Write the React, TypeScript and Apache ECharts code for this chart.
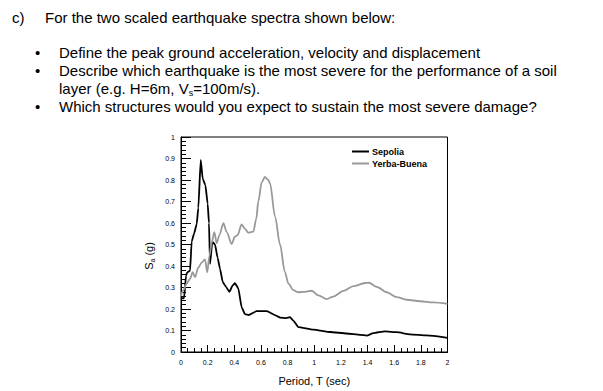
import React, { useEffect, useRef } from "react";
import * as echarts from "echarts";

const sepoliaT = [0, 0.023, 0.038, 0.047, 0.068, 0.08, 0.098, 0.118, 0.13, 0.148, 0.163, 0.183, 0.2, 0.21, 0.218, 0.235, 0.255, 0.275, 0.293, 0.313, 0.338, 0.363, 0.388, 0.405, 0.43, 0.456, 0.48, 0.51, 0.568, 0.643, 0.718, 0.743, 0.79, 0.818, 0.843, 0.88, 0.993, 1.12, 1.244, 1.344, 1.394, 1.444, 1.53, 1.62, 1.72, 1.845, 2.0];
const sepoliaSa = [0.25, 0.25, 0.356, 0.37, 0.378, 0.514, 0.55, 0.596, 0.67, 0.893, 0.806, 0.776, 0.69, 0.6, 0.41, 0.513, 0.5, 0.438, 0.386, 0.326, 0.303, 0.28, 0.31, 0.32, 0.296, 0.206, 0.176, 0.172, 0.19, 0.19, 0.168, 0.16, 0.158, 0.162, 0.146, 0.116, 0.104, 0.093, 0.086, 0.08, 0.076, 0.088, 0.096, 0.092, 0.082, 0.077, 0.066];

const yerbaT = [0, 0.017, 0.043, 0.068, 0.088, 0.105, 0.13, 0.155, 0.18, 0.197, 0.213, 0.23, 0.25, 0.268, 0.288, 0.318, 0.343, 0.38, 0.405, 0.425, 0.455, 0.48, 0.505, 0.543, 0.565, 0.58, 0.606, 0.63, 0.655, 0.668, 0.706, 0.743, 0.78, 0.806, 0.843, 0.88, 0.918, 0.981, 1.031, 1.094, 1.143, 1.218, 1.294, 1.381, 1.41, 1.469, 1.544, 1.619, 1.694, 1.794, 1.894, 2.0];
const yerbaSa = [0.26, 0.288, 0.318, 0.341, 0.371, 0.348, 0.393, 0.416, 0.431, 0.371, 0.446, 0.506, 0.558, 0.506, 0.544, 0.599, 0.558, 0.503, 0.536, 0.544, 0.593, 0.573, 0.555, 0.56, 0.62, 0.7, 0.79, 0.814, 0.8, 0.784, 0.63, 0.5, 0.371, 0.318, 0.288, 0.278, 0.28, 0.285, 0.263, 0.246, 0.258, 0.284, 0.306, 0.321, 0.322, 0.303, 0.278, 0.255, 0.243, 0.236, 0.231, 0.224];

const seriesNames = ["Sepolia", "Yerba-Buena"];
const xTickLabels = ["0", "0.2", "0.4", "0.6", "0.8", "1", "1.2", "1.4", "1.6", "1.8", "2"];

const headerTitle = "For the two scaled earthquake spectra shown below:";
const bullets = [
  "Define the peak ground acceleration, velocity and displacement",
  "Describe which earthquake is the most severe for the performance of a soil",
];
const bullet3 = "Which structures would you expect to sustain the most severe damage?";

const FONT = "'Liberation Sans', Arial, sans-serif";

export default function App() {
  const ref = useRef<HTMLDivElement>(null);
  useEffect(() => {
    if (!ref.current) return;
    const chart = echarts.init(ref.current, undefined, { renderer: "svg" });
    const txt = (x: number, y: number, text: string, extra: any = {}) => ({
      type: "text",
      x,
      y,
      style: { text, fontFamily: FONT, fontSize: 15, fill: "#000", verticalAlign: "middle", ...extra },
    });
    chart.setOption({
      animation: false,
      backgroundColor: "#fff",
      textStyle: { fontFamily: FONT },
      grid: { left: 181, right: 155.5, top: 137, bottom: 32, show: true, borderColor: "#000", borderWidth: 1 },
      legend: {
        left: 352,
        top: 147,
        padding: 0,
        orient: "vertical",
        icon: "rect",
        itemWidth: 17,
        itemHeight: 2,
        itemGap: 3,
        data: seriesNames,
        textStyle: { fontSize: 9, fontWeight: "bold", color: "#000", fontFamily: FONT, padding: [0, 0, 0, -2] },
      },
      xAxis: {
        type: "value",
        min: 0,
        max: 2,
        interval: 0.2,
        axisLine: { lineStyle: { color: "#000", width: 1 } },
        axisTick: { inside: true, length: 7, lineStyle: { color: "#000" } },
        minorTick: { show: true, splitNumber: 4, length: 4, lineStyle: { color: "#000" } },
        splitLine: { show: false },
        axisLabel: {
          color: "#000",
          fontSize: 7,
          margin: 7,
          formatter: (v: number) => xTickLabels[Math.round(v / 0.2)] ?? "",
        },
        name: "Period, T (sec)",
        nameLocation: "middle",
        nameGap: 23,
        nameTextStyle: { fontSize: 11, color: "#000", fontFamily: FONT },
      },
      yAxis: {
        type: "value",
        min: 0,
        max: 1,
        interval: 0.1,
        axisLine: { show: true, lineStyle: { color: "#000", width: 1 } },
        axisTick: { show: true, inside: true, length: 10, lineStyle: { color: "#000" } },
        minorTick: { show: true, splitNumber: 5, length: 5, lineStyle: { color: "#000" } },
        splitLine: { show: false },
        axisLabel: { color: "#000", fontSize: 7, margin: 6 },
      },
      graphic: [
        txt(12, 17, "c)"),
        txt(45, 17, headerTitle),
        txt(35, 52, "•"),
        txt(59, 52, bullets[0]),
        txt(35, 70, "•"),
        txt(59, 70, bullets[1]),
        {
          type: "text",
          x: 59,
          y: 88,
          style: {
            text: "{n|layer (e.g. H=6m, V}{s|s}{n|=100m/s).}",
            fontFamily: FONT,
            verticalAlign: "middle",
            rich: {
              n: { fontSize: 15, fontFamily: FONT, fill: "#000", lineHeight: 18, verticalAlign: "middle" },
              s: { fontSize: 9, fontFamily: FONT, fill: "#000", lineHeight: 9, verticalAlign: "bottom" },
            },
          },
        },
        txt(35, 106, "•"),
        txt(59, 106, bullet3),
        {
          type: "text",
          x: 149,
          y: 256,
          rotation: Math.PI / 2,
          style: {
            text: "{n|S}{s|a}{n| (g)}",
            fontFamily: FONT,
            align: "center",
            verticalAlign: "middle",
            rich: {
              n: { fontSize: 11, fontFamily: FONT, fill: "#000", lineHeight: 14, verticalAlign: "middle" },
              s: { fontSize: 7, fontFamily: FONT, fill: "#000", lineHeight: 7, verticalAlign: "bottom" },
            },
          },
        },
      ],
      series: [
        {
          name: seriesNames[0],
          type: "line",
          showSymbol: false,
          smooth: 0.15,
          smoothMonotone: "x",
          lineStyle: { color: "#000", width: 1.8 },
          itemStyle: { color: "#000" },
          data: sepoliaT.map((t, i) => [t, sepoliaSa[i]]),
        },
        {
          name: seriesNames[1],
          type: "line",
          showSymbol: false,
          smooth: 0.3,
          smoothMonotone: "x",
          lineStyle: { color: "#999", width: 1.8 },
          itemStyle: { color: "#999" },
          data: yerbaT.map((t, i) => [t, yerbaSa[i]]),
        },
      ],
    });
    return () => chart.dispose();
  }, []);
  return <div ref={ref} style={{ position: "fixed", left: 0, top: 0, width: 603, height: 391 }} />;
}
